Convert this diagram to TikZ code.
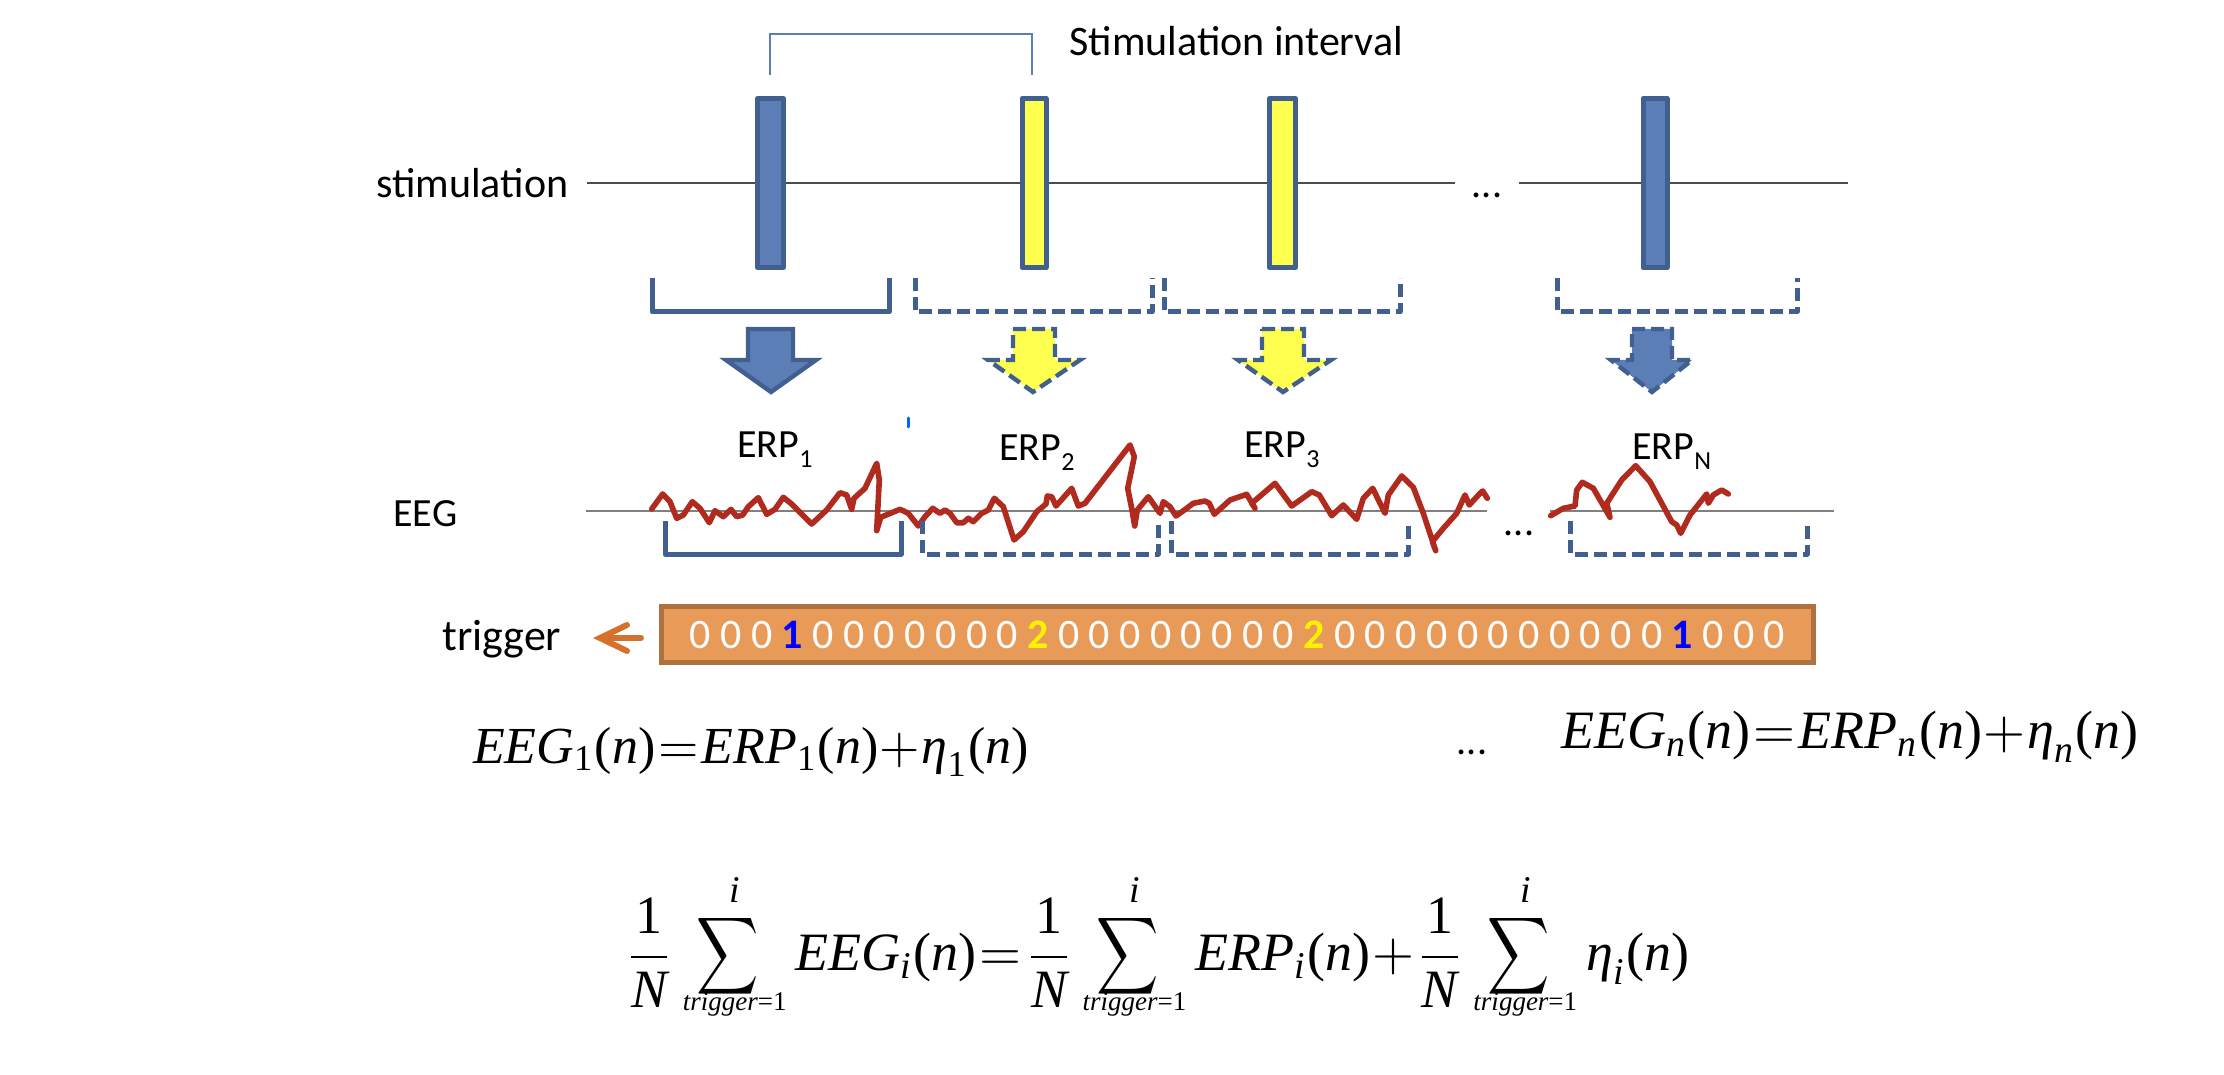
\documentclass[tikz,border=0pt]{standalone}
\usepackage{amsmath}
\usepackage{fontspec}
\setmainfont{Carlito}
\newfontfamily\eqfont{Liberation Serif}
\definecolor{barblue}{HTML}{5B7EB6}
\definecolor{edgeblue}{HTML}{41608F}
\definecolor{baryellow}{HTML}{FFFF4F}
\definecolor{tracered}{HTML}{B02A1E}
\definecolor{trigfill}{HTML}{E89A58}
\definecolor{trigedge}{HTML}{AD7240}
\definecolor{trigarrow}{HTML}{D4712F}
\newcommand{\ev}[1]{\text{\eqfont\itshape #1}}
\newcommand{\en}[1]{\text{\eqfont #1}}
\newcommand{\erpsub}[1]{\raisebox{-5pt}{\fontsize{13}{15}\selectfont #1}}
\newcommand{\sumover}{\mathop{\scalebox{0.8}[1]{$\displaystyle\sum$}}\limits_{\raisebox{4pt}[0pt][0pt]{$\scriptscriptstyle\ev{trigger}\en{=}\en{1}$}}^{\ev{i}}}
\begin{document}
\begin{tikzpicture}[x=0.5pt,y=-0.5pt]
\tikzstyle{every node}+=[inner sep=0pt]
\tikzstyle{lbl}=[font=\fontsize{20}{24}\selectfont]
\tikzstyle{biglbl}=[font=\fontsize{21}{24}\selectfont]
\tikzstyle{eqn}=[scale=2.7,execute at begin node={\thickmuskip=1mu \medmuskip=0.5mu}]
\tikzstyle{stimbar}=[draw=edgeblue,line width=2.5pt,line join=round]
\tikzstyle{brack}=[draw=edgeblue,line width=2.5pt,line join=round]
\tikzstyle{dbrack}=[brack,dash pattern=on 6.5pt off 3pt]
\tikzstyle{darrow}=[draw=edgeblue,line width=2.2pt,line join=miter]
\tikzstyle{ddarrow}=[darrow,dash pattern=on 6.5pt off 3pt]
\tikzstyle{trace}=[draw=tracered,line width=2.8pt,line join=round,line cap=round]
\useasboundingbox (0,0) rectangle (2224,1075);
% stimulation row
\draw [black!70,line width=1pt] (587,183) -- (1455,183);
\draw [black!70,line width=1pt] (1519,183) -- (1848,183);
\node [biglbl,anchor=base west] (stimtext) at (376,198) {stimulation};
\node [lbl,anchor=base] (stimdots) at (1487,198) {...};
\draw [stimbar,fill=barblue] (757.5,98.5) rectangle (783.5,267.5);
\draw [stimbar,fill=baryellow] (1022,98.5) rectangle (1046,267.5);
\draw [stimbar,fill=baryellow] (1269.5,98.5) rectangle (1295.5,267.5);
\draw [stimbar,fill=barblue] (1643,98.5) rectangle (1667,267.5);
\draw [draw=barblue,line width=0.8pt] (770,75) -- (770,34) -- (1032,34) -- (1032,75);
\node [biglbl,anchor=base west] (intervaltext) at (1069,56) {Stimulation interval};
% epoch brackets
\draw [brack] (652,278) -- (652,312) -- (889,312) -- (889,278);
\draw [dbrack] (915,278) -- (915,312) -- (1152,312) -- (1152,278);
\draw [dbrack] (1164,278) -- (1164,312) -- (1400,312) -- (1400,278);
\draw [dbrack] (1557,278) -- (1557,312) -- (1797,312) -- (1797,278);
% arrows
\draw [darrow,fill=barblue] (748,329) -- (793,329) -- (793,360) -- (816,360) -- (771,392) -- (726,360) -- (748,360) -- cycle;
\draw [ddarrow,fill=baryellow] (1013,329) -- (1055,329) -- (1055,360) -- (1080,360) -- (1033,392) -- (988,360) -- (1013,360) -- cycle;
\draw [ddarrow,fill=baryellow] (1262,329) -- (1304,329) -- (1304,360) -- (1331,360) -- (1283,392) -- (1238,360) -- (1262,360) -- cycle;
\draw [ddarrow,fill=barblue] (1632,329) -- (1672,329) -- (1672,360) -- (1692,360) -- (1652,392) -- (1611,360) -- (1632,360) -- cycle;
\draw [draw=blue!60!cyan,line width=1.5pt,line cap=round] (908,418) -- (908,427);
% ERP labels
\node [lbl,anchor=base west] (erp1) at (737,458) {ERP\erpsub{1}};
\node [lbl,anchor=base west] (erp2) at (999,460) {ERP\erpsub{2}};
\node [lbl,anchor=base west] (erp3) at (1244,458) {ERP\erpsub{3}};
\node [lbl,anchor=base west] (erpn) at (1632,459) {ERP\erpsub{N}};
% EEG row
\node [lbl,anchor=base west] (eegtext) at (393,526) {EEG};
\draw [black!50,line width=1.25pt] (586,511) -- (1487,511);
\draw [black!50,line width=1.25pt] (1550,511) -- (1834,511);
\node [lbl,anchor=base] (eegdots) at (1519,535) {...};
\draw [trace] (651.7,509) -- (662.7,494) -- (670,501.7) -- (676.7,518.3) -- (683.3,515) -- (692.3,501.7) -- (700,508.3) -- (709.3,522.7) -- (715,510.7) -- (723.3,516.7) -- (731,509.3) -- (736.7,516.7) -- (742.7,515) -- (748.3,506.7) -- (758.3,497.7) -- (766.7,514.3) -- (775,509.3) -- (783.3,497.3) -- (791.7,504) -- (811.7,524) -- (826.7,510) -- (840,492.7) -- (846.7,495) -- (851.7,509.3) -- (854,498.3) -- (865,488.3) -- (876.7,463.3) -- (879.3,480) -- (876.7,530.7) -- (880.7,517.3) -- (900,509.3) -- (908.3,513.3) -- (918.3,526) -- (925,516.7) -- (932.7,508.3) -- (940,513.3) -- (945,510) -- (950,513.3) -- (956.7,522.7) -- (963.3,522.7) -- (968.3,518.3) -- (973.3,521.7) -- (981.7,513.3) -- (988.3,510) -- (994.3,498.3) -- (1003.3,506.7) -- (1014,540) -- (1023.3,531.7) -- (1036.7,511.7) -- (1046,504) -- (1047.3,496) -- (1051.7,496.7) -- (1056,506) -- (1071.7,488.3) -- (1078.3,506) -- (1085,503.3) -- (1130,445) -- (1134.3,456.7) -- (1127.7,488.3) -- (1131.7,508.3) -- (1134.7,526) -- (1137.3,510) -- (1148.3,496.7) -- (1160,513.3) -- (1163.3,501.7) -- (1170,506.7) -- (1176,516) -- (1186.7,508.3) -- (1193.3,503.3) -- (1205,501) -- (1209.3,503.3) -- (1214.3,514.3) -- (1230,500) -- (1246.7,494.3) -- (1255,508.3) -- (1251.7,503.3) -- (1275,483.3) -- (1291.7,506) -- (1311.7,491.7) -- (1319.3,495) -- (1331.7,515.7) -- (1343.3,505) -- (1356.7,519.3) -- (1363.3,498.3) -- (1372.7,488.3) -- (1385,513.3) -- (1388.3,495) -- (1401.7,476) -- (1413.3,487.3) -- (1423.3,513.3) -- (1435.7,550.7) -- (1432.3,541.7) -- (1443.3,528.3) -- (1456.7,513.3) -- (1465,495) -- (1469.3,505) -- (1480,493.3) -- (1482.7,491) -- (1487.3,498.3);
\draw [trace] (1550.7,515.7) -- (1563.3,508.3) -- (1575,506) -- (1576.7,490) -- (1582.3,482.3) -- (1593.3,488.3) -- (1610,517.3) -- (1606.7,503.3) -- (1621.7,480) -- (1635.7,465.7) -- (1650,481.7) -- (1671.7,521.7) -- (1676.7,525) -- (1680.7,533.3) -- (1690,515) -- (1706.7,494) -- (1708.3,503.3) -- (1713.3,495) -- (1721.7,490) -- (1728.3,494);
\draw [brack] (665,521) -- (665,554) -- (901,554) -- (901,521);
\draw [dbrack] (922,521) -- (922,554) -- (1158,554) -- (1158,521);
\draw [dbrack] (1171,521) -- (1171,554) -- (1408,554) -- (1408,521);
\draw [dbrack] (1570,521) -- (1570,554) -- (1807,554) -- (1807,521);
% trigger row
\node [anchor=base west,font=\fontsize{22}{24}\selectfont] (trigtext) at (442,650) {trigger};
\draw [trigarrow,line width=3pt,line cap=round] (641,638) -- (600,638);
\draw [trigarrow,line width=3pt,line cap=round,line join=miter] (627,625) -- (600,638) -- (627,651);
\node [draw=trigedge,fill=trigfill,line width=2.5pt,anchor=north west,minimum height=28pt,minimum width=576pt,text=white,font=\fontsize{21}{24}\selectfont] (trigbox) at (659,604) {\spaceskip=4.7pt 0 0 0 \textcolor{blue}{\textbf{1}} 0 0 0 0 0 0 0 \textcolor{yellow}{\textbf{2}} 0 0 0 0 0 0 0 0 \textcolor{yellow}{\textbf{2}} 0 0 0 0 0 0 0 0 0 0 0 \textcolor{blue}{\textbf{1}} 0 0 0};
% equations
\node [eqn,scale=2.6/2.7] (eqfirst) at (751,752) {$\ev{EEG}_{\en{1}}\en{(}\ev{n}\en{)}=\ev{ERP}_{\en{1}}\en{(}\ev{n}\en{)}+\ev{η}_{\en{1}}\en{(}\ev{n}\en{)}$};
\node [lbl,anchor=base] (eqdots) at (1472,754) {...};
\node [eqn] (eqlast) at (1850,737) {$\ev{EEG}_{\ev{n}}\en{(}\ev{n}\en{)}=\ev{ERP}_{\ev{n}}\en{(}\ev{n}\en{)}+\ev{η}_{\ev{n}}\en{(}\ev{n}\en{)}$};
\node [eqn] (eqmean) at (1157,955) {$\dfrac{\en{1}}{\ev{N}}\sumover\ev{EEG}_{\ev{i}}\en{(}\ev{n}\en{)}=\dfrac{\en{1}}{\ev{N}}\sumover\ev{ERP}_{\ev{i}}\en{(}\ev{n}\en{)}+\dfrac{\en{1}}{\ev{N}}\sumover\ev{η}_{\ev{i}}\en{(}\ev{n}\en{)}$};
\end{tikzpicture}
\end{document}
